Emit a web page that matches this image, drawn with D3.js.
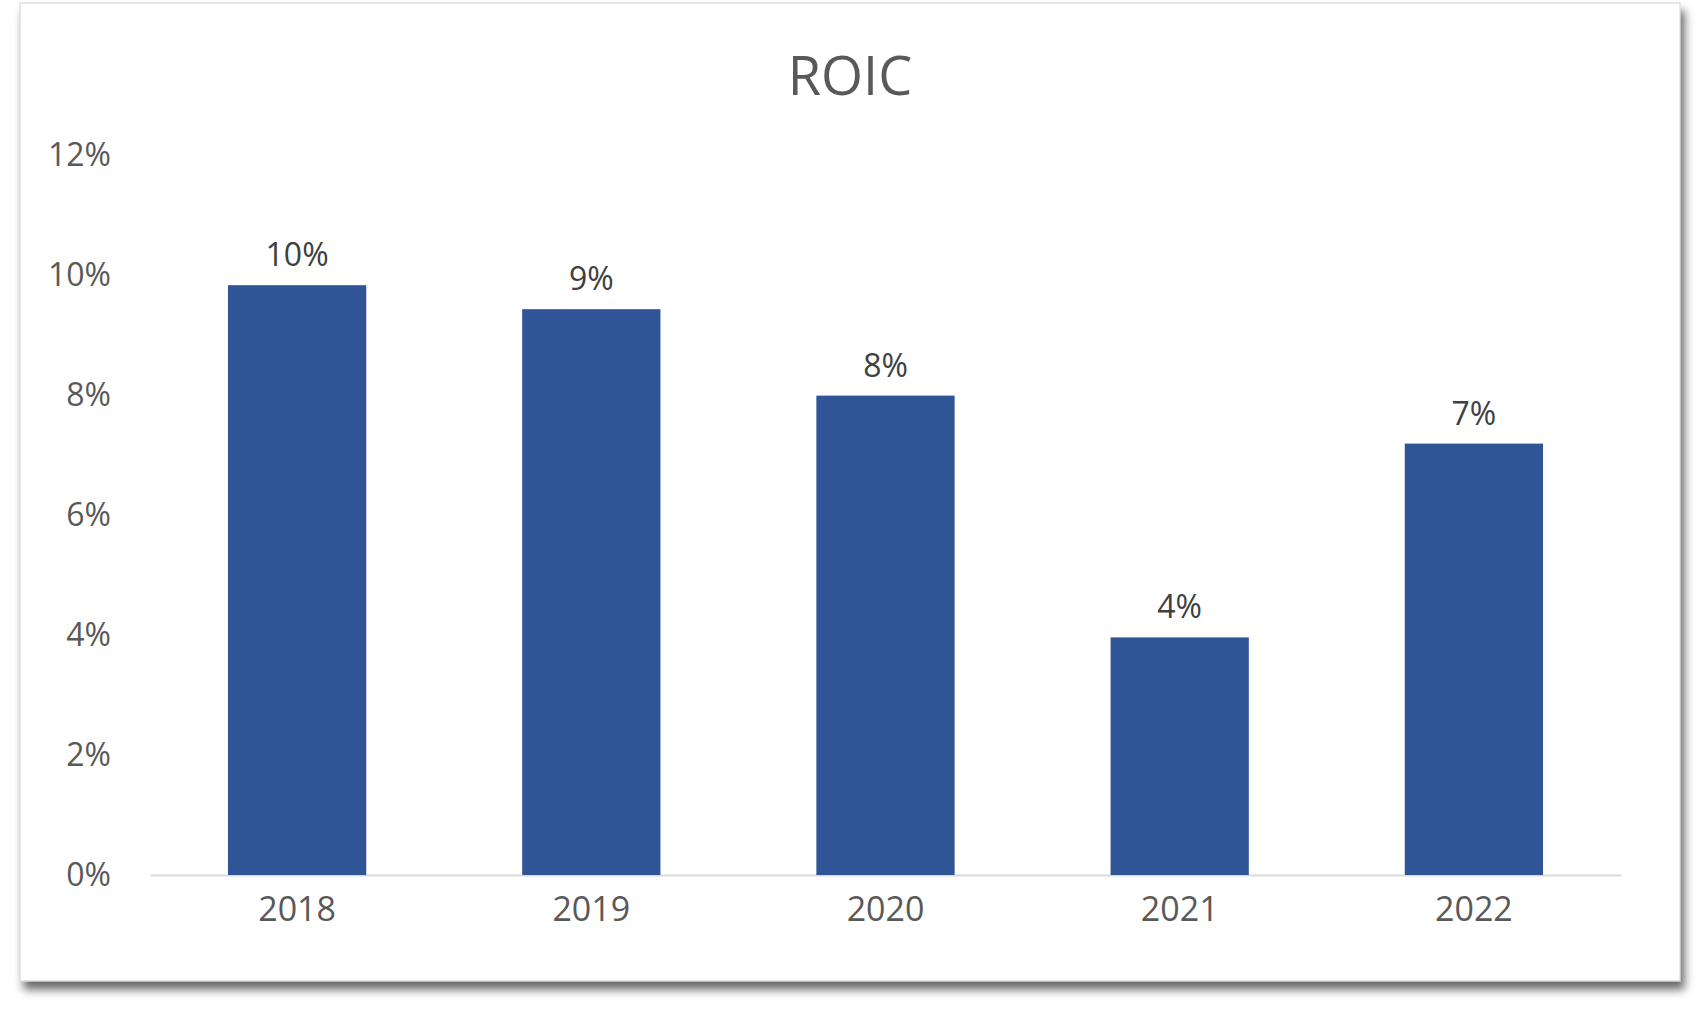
<!DOCTYPE html><html><head><meta charset="utf-8"><script src="https://cdn.jsdelivr.net/npm/d3@7"></script>
<style>body{margin:0;background:#fff}</style></head><body><svg id="c" width="1698" height="1018"></svg>
<script>
const categories=["2018","2019","2020","2021","2022"];
const values=[9.83,9.43,7.99,3.96,7.19];
const labels=["10%","9%","8%","7%"].length?["10%","9%","8%","4%","7%"]:[];
const yTicks=[0,2,4,6,8,10,12];
const svg=d3.select("#c");
const defs=svg.append("defs");
const f=defs.append("filter").attr("id","sh").attr("x","-5%").attr("y","-5%").attr("width","115%").attr("height","120%");
f.append("feDropShadow").attr("dx",4).attr("dy",8).attr("stdDeviation",5).attr("flood-color","#000").attr("flood-opacity",0.6);
svg.append("rect").attr("x",20).attr("y",3).attr("width",1660).attr("height",978).attr("fill","#fff").attr("stroke","#d0d0d0").attr("filter","url(#sh)");
const font="'Open Sans', sans-serif";
const x=d3.scaleBand().domain(categories).range([150,1621]).paddingInner(0.53).paddingOuter(0.265);
const y=d3.scaleLinear().domain([0,12]).range([875,155]);
svg.append("text").attr("x",850).attr("y",95).attr("text-anchor","middle").attr("font-family",font).attr("font-size",54).attr("fill","#595959").text("ROIC");
const ya=svg.append("g").attr("transform","translate(111,0)").call(d3.axisLeft(y).tickValues(yTicks).tickFormat(d=>d+"%").tickSize(0).tickPadding(0));
ya.select(".domain").remove();
ya.selectAll("text").attr("font-family",font).attr("font-size",32).attr("fill","#595959");
const xa=svg.append("g").attr("transform","translate(0,875)").call(d3.axisBottom(x).tickSize(0).tickPadding(22));
xa.select(".domain").attr("stroke","#d9d9d9").attr("stroke-width",2);
xa.selectAll("text").attr("font-family",font).attr("font-size",34).attr("fill","#595959");
svg.selectAll(".bar").data(values).join("rect").attr("x",(d,i)=>x(categories[i])).attr("width",x.bandwidth())
 .attr("y",d=>y(d)).attr("height",d=>y(0)-y(d)).attr("fill","#2f5597");
svg.selectAll(".lbl").data(values).join("text").attr("x",(d,i)=>x(categories[i])+x.bandwidth()/2).attr("y",d=>y(d)-19)
 .attr("text-anchor","middle").attr("font-family",font).attr("font-size",32).attr("fill","#404040").text((d,i)=>labels[i]);
</script></body></html>
